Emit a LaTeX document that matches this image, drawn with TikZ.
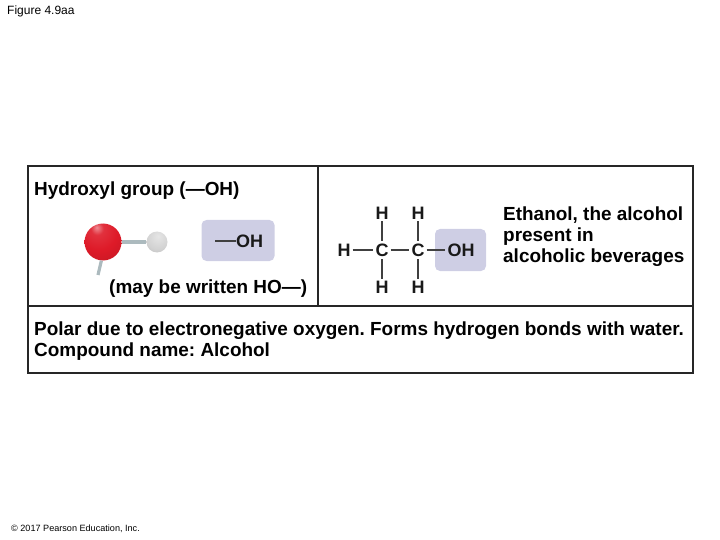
\documentclass[tikz,border=0pt]{standalone}
\usepackage{fontspec}
\setmainfont{Liberation Sans}
\definecolor{groupbox}{RGB}{206,206,228}
\definecolor{oxygen}{RGB}{222,26,40}
\definecolor{stickgrey}{RGB}{172,186,190}
\pgfdeclareradialshading{redball}{\pgfpoint{-0.3cm}{0.7cm}}{
    color(0cm)=(oxygen!50!white); color(0.3cm)=(oxygen!90!white);
    color(0.9cm)=(oxygen); color(1.4cm)=(oxygen!92!black); color(1.9cm)=(oxygen!72!black); color(2.5cm)=(oxygen!45!black); color(3.4cm)=(oxygen!40!black)}
\pgfdeclareradialshading{greyball}{\pgfpoint{0.1cm}{0.5cm}}{
    color(0cm)=(black!10); color(1cm)=(black!18); color(1.6cm)=(black!28); color(2.2cm)=(black!40); color(3.2cm)=(black!48)}
\tikzset{
    panel/.style={draw=black!85, line width=1.6pt},
    label/.style={inner sep=0pt, anchor=base west, font=\bfseries\fontsize{18.95}{21}\selectfont, align=left},
    atom/.style={inner sep=0pt, font=\bfseries\fontsize{18}{18}\selectfont, text=black!90},
    bond/.style={draw=black!75, line width=1.2pt},
    groupfill/.style={fill=groupbox, rounded corners=5pt},
    stick/.style={draw=stickgrey, line width=3.2pt}
}
\frenchspacing
\begin{document}
\begin{tikzpicture}[x=1pt, y=-1pt]
        \useasboundingbox (0,0) rectangle (720,540);
        \node[anchor=base west, inner sep=0pt, font=\fontsize{12}{14}\selectfont] (figlabel) at (7,15) {Figure 4.9aa};
        \node[anchor=base west, inner sep=0pt, font=\fontsize{9.1}{11}\selectfont] (credit) at (11,531) {© 2017 Pearson Education, Inc.};
        % table
        \draw[panel] (28,166) rectangle (693,373);
        \draw[panel] (28,306) -- (693,306);
        \draw[panel] (318,166) -- (318,306);
        \node[label] (title) at (34,196) {Hydroxyl group (—OH)};
        \node[label] (written) at (109,293) {(may be written HO—)};
        \node[label] (ethanol) at (503,262) {\strut Ethanol, the alcohol\\\strut present in\\\strut alcoholic beverages};
        \node[label] (polar) at (34,356) {Polar due to electronegative oxygen. Forms hydrogen bonds with water.\\Compound name: Alcohol};
        % ball and stick
        \coordinate (stickend) at (98,275);
        \node[circle, minimum size=21pt, inner sep=0pt, shading=greyball] (hball) at (157,242) {};
        \node[circle, minimum size=37pt, inner sep=0pt, shading=redball] (oball) at (103,242) {};
        \draw[stick] (oball.east) -- (hball.west);
        \draw[stick] (oball.-95) -- (stickend);
        % -OH box
        \node[groupfill, minimum width=73pt, minimum height=41pt, inner sep=0pt] (ohbox) at (238,240.5) {};
        \node[atom] (oh) at (249.5,241.5) {OH};
        \coordinate (dashstart) at (215,241);
        \draw[bond] (dashstart) -- (oh.west |- dashstart);
        % ethanol
        \node[groupfill, minimum width=51pt, minimum height=42pt, inner sep=0pt] (ethbox) at (460.5,250) {};
        \node[atom, inner sep=2pt] (c1) at (382,250) {C};
        \node[atom, inner sep=2pt] (c2) at (418,250) {C};
        \node[atom, inner sep=2pt] (h0) at (344,250) {H};
        \node[atom, inner sep=2pt] (h1) at (382,213) {H};
        \node[atom, inner sep=2pt] (h2) at (418,213) {H};
        \node[atom, inner sep=2pt] (h3) at (382,287) {H};
        \node[atom, inner sep=2pt] (h4) at (418,287) {H};
        \node[atom, inner sep=2pt] (ohb) at (461,250) {OH};
        \draw[bond] (h0) -- (c1);
        \draw[bond] (c1) -- (c2);
        \draw[bond] (c2) -- (ohb);
        \draw[bond] (h1) -- (c1);
        \draw[bond] (h2) -- (c2);
        \draw[bond] (h3) -- (c1);
        \draw[bond] (h4) -- (c2);
    \end{tikzpicture}
\end{document}
